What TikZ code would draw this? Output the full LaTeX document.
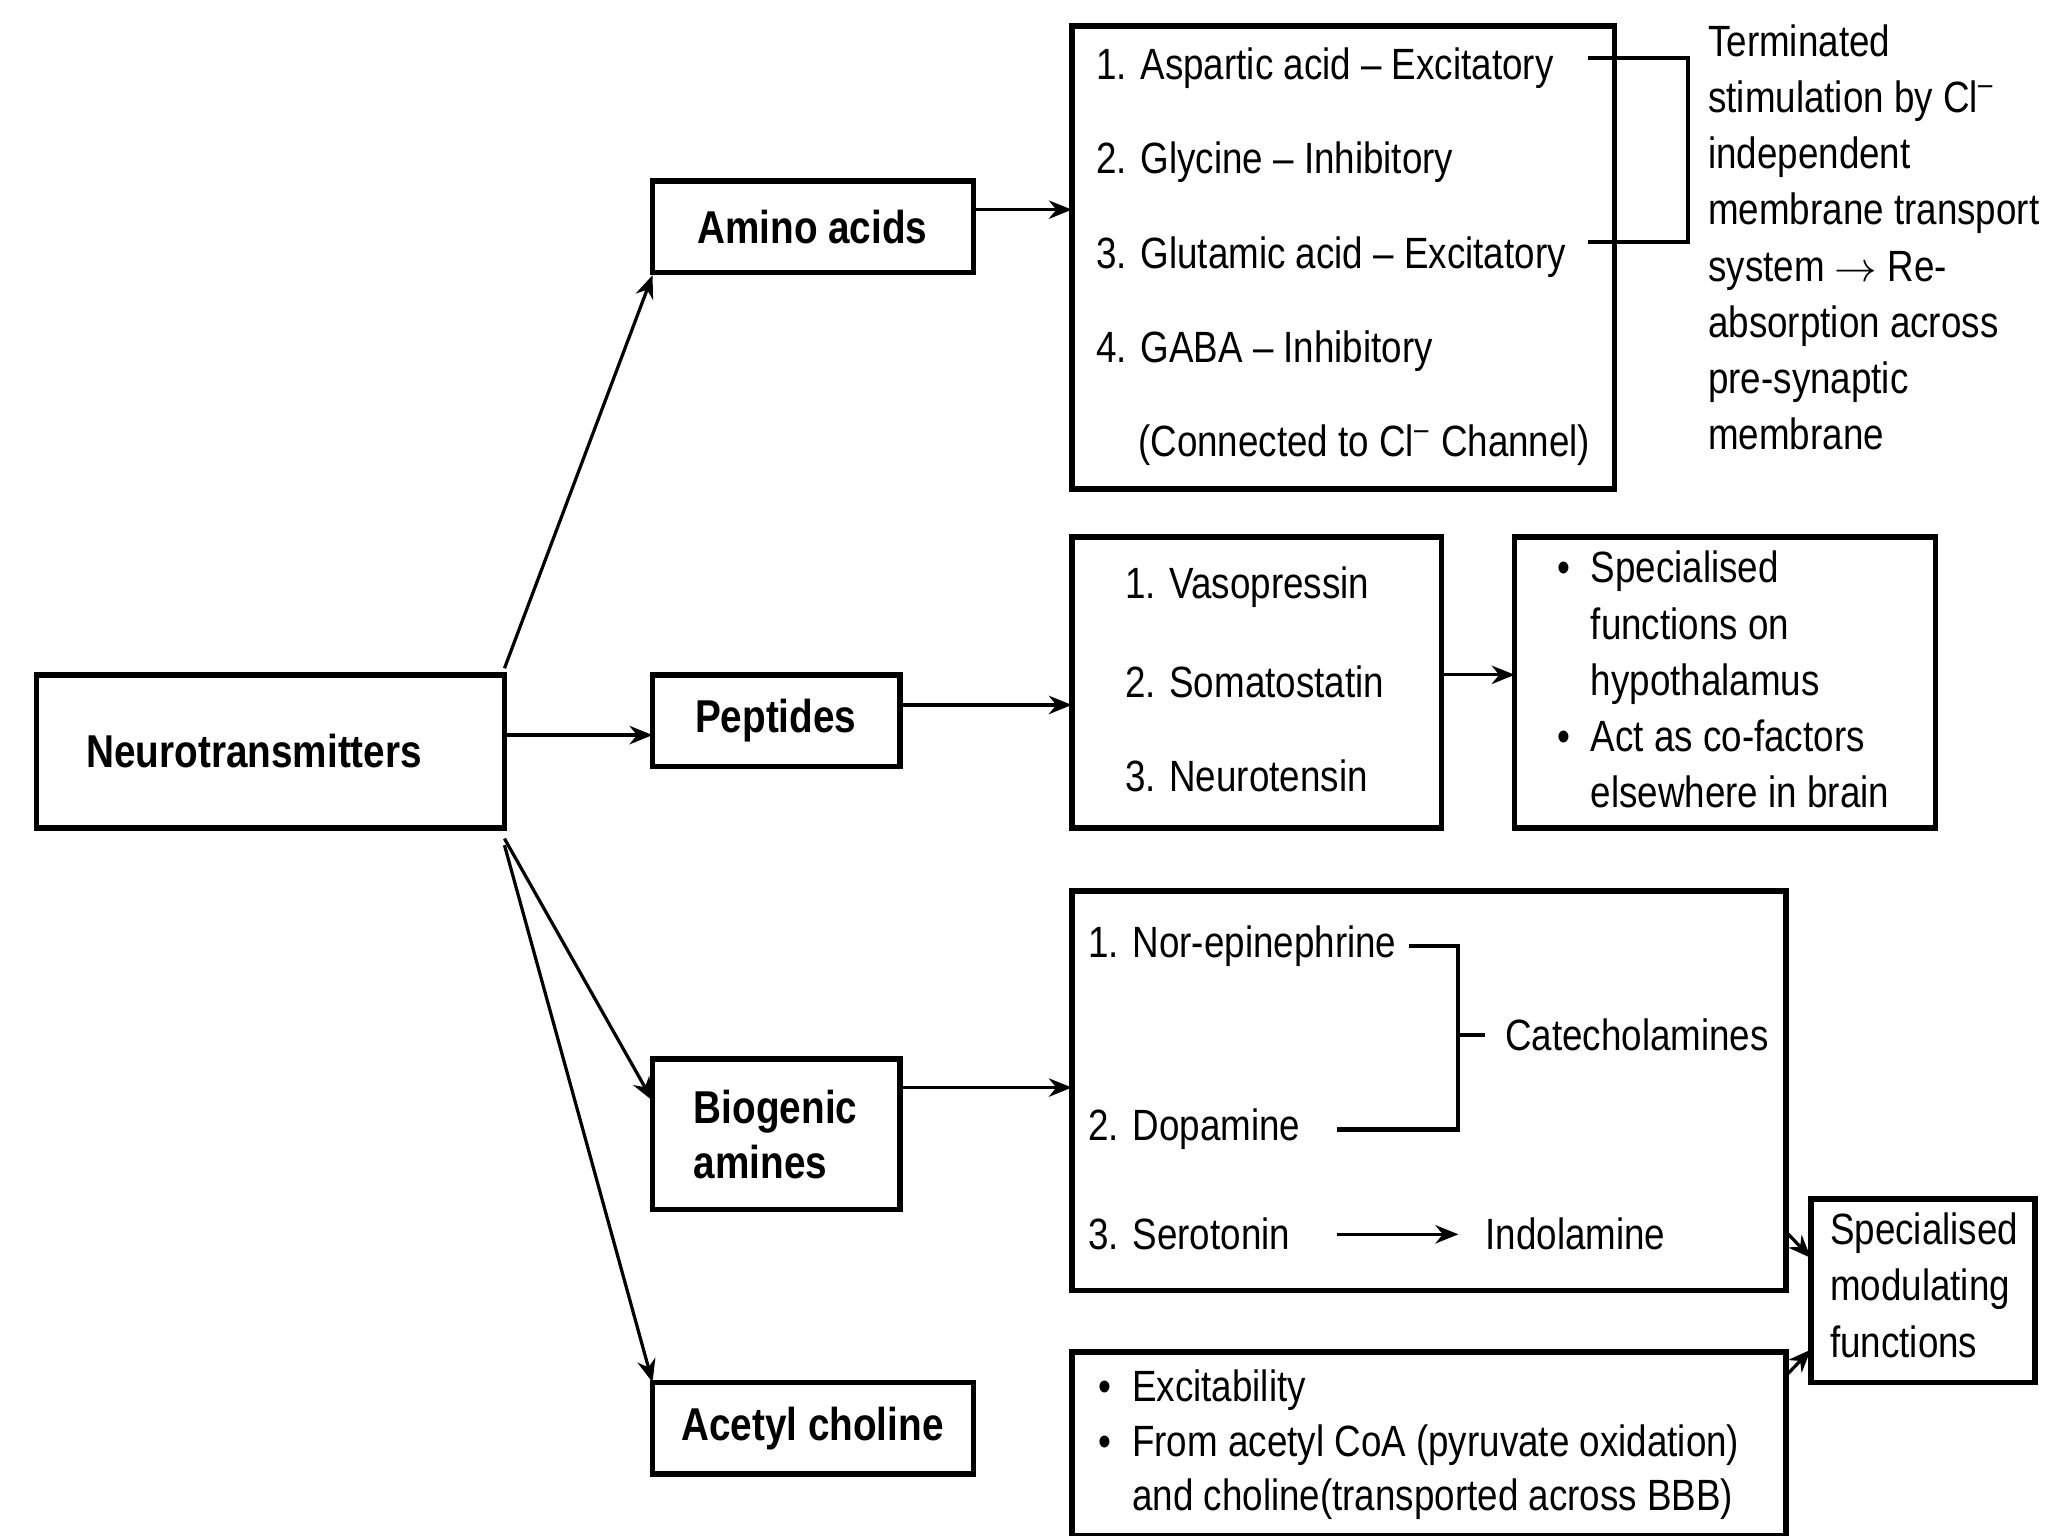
\documentclass[tikz,border=0pt]{standalone}
\usepackage{fontspec}
\setmainfont{Liberation Sans}[FakeStretch=0.84]
\usetikzlibrary{arrows.meta}
\begin{document}
\begin{tikzpicture}[x=0.01cm,y=-0.01cm,
 box/.style={draw,line width=1.2pt},
 lbl/.style={font=\fontsize{10}{12}\selectfont\bfseries},
 t/.style={anchor=west,inner sep=0,font=\fontsize{9.5}{11}\selectfont},
 arr/.style={-{Stealth[length=5pt,width=4pt]},line width=0.7pt},
 ln/.style={line width=0.9pt}]
\useasboundingbox (0,0) rectangle (1563,1172);
\draw[box] (28,515) rectangle (385,632);
\node[lbl] (nt) at (194,573) {Neurotransmitters};
\draw[box] (498,138) rectangle (743,208); \node[lbl] (aa) at (620,173) {Amino acids};
\draw[box] (498,515) rectangle (687,585); \node[lbl] (pp) at (592,550) {Peptides};
\draw[box] (498,808) rectangle (687,923); \node[lbl,align=left] (ba) at (592,866) {Biogenic\\amines};
\draw[box] (498,1055) rectangle (743,1125); \node[lbl] (ac) at (620,1090) {Acetyl choline};
\draw[box] (818,20) rectangle (1232,373);
\draw[box] (818,410) rectangle (1100,632);
\draw[box] (1156,410) rectangle (1477,632);
\draw[box] (818,680) rectangle (1363,985);
\draw[box] (818,1032) rectangle (1363,1172);
\draw[box] (1382,915) rectangle (1553,1055);
% arrows
\coordinate (n1) at (385,510); \coordinate (a1) at (498,210);
\coordinate (n2) at (385,561); \coordinate (p1) at (498,561);
\coordinate (n3) at (385,640); \coordinate (b1) at (498,840);
\coordinate (n4) at (385,645); \coordinate (c1) at (498,1055);
\draw[arr] (n1)--(a1); \draw[arr] (n2)--(p1); \draw[arr] (n3)--(b1); \draw[arr] (n4)--(c1);
\coordinate (x1) at (743,160); \coordinate (y1) at (818,160); \draw[arr] (x1)--(y1);
\coordinate (x2) at (687,538); \coordinate (y2) at (818,538); \draw[arr] (x2)--(y2);
\coordinate (x3) at (1100,515); \coordinate (y3) at (1156,515); \draw[arr] (x3)--(y3);
\coordinate (x4) at (687,830); \coordinate (y4) at (818,830); \draw[arr] (x4)--(y4);
\coordinate (x5) at (1363,940); \coordinate (y5) at (1382,960); \draw[arr] (x5)--(y5);
\coordinate (x6) at (1363,1050); \coordinate (y6) at (1382,1030); \draw[arr] (x6)--(y6);
% amino list
\node[t] at (836,52) {1. Aspartic acid -- Excitatory};
\node[t] at (836,124) {2. Glycine -- Inhibitory};
\node[t] at (836,196) {3. Glutamic acid -- Excitatory};
\node[t] at (836,268) {4. GABA -- Inhibitory};
\node[t] at (868,340) {(Connected to Cl\textsuperscript{--} Channel)};
\coordinate (k1) at (1212,44); \coordinate (k2) at (1288,44); \coordinate (k3) at (1288,185); \coordinate (k4) at (1212,185);
\draw[ln] (k1)--(k2)--(k3)--(k4);
\node[t,anchor=north west,align=left,font=\fontsize{9.5}{12.2}\selectfont] at (1303,18) {Terminated\\stimulation by Cl\textsuperscript{--}\\independent\\membrane transport\\system $\rightarrow$ Re-\\absorption across\\pre-synaptic\\membrane};
% peptides
\node[t] at (858,448) {1. Vasopressin};
\node[t] at (858,520) {2. Somatostatin};
\node[t] at (858,592) {3. Neurotensin};
\node[t,anchor=north west,align=left,font=\fontsize{9.5}{12.2}\selectfont] at (1188,420) {\textbullet\ \ Specialised\\\phantom{\textbullet\ \ }functions on\\\phantom{\textbullet\ \ }hypothalamus\\\textbullet\ \ Act as co-factors\\\phantom{\textbullet\ \ }elsewhere in brain};
% amines
\node[t] at (830,722) {1. Nor-epinephrine};
\node[t] at (830,862) {2. Dopamine};
\node[t] at (830,942) {3. Serotonin};
\coordinate (m1) at (1075,722); \coordinate (m2) at (1113,722); \coordinate (m3) at (1113,862); \coordinate (m4) at (1020,862);
\draw[ln] (m1)--(m2)--(m3)--(m4);
\coordinate (m5) at (1113,790); \coordinate (m6) at (1133,790); \draw[ln] (m5)--(m6);
\node[t] at (1148,790) {Catecholamines};
\coordinate (s1) at (1020,942); \coordinate (s2) at (1113,942); \draw[arr] (s1)--(s2);
\node[t] at (1133,942) {Indolamine};
% ACh
\node[t,anchor=north west,align=left,font=\fontsize{9.5}{11.8}\selectfont] at (838,1045) {\textbullet\ \ Excitability\\\textbullet\ \ From acetyl CoA (pyruvate oxidation)\\\phantom{\textbullet\ \ }and choline(transported across BBB)};
\node[t,anchor=north west,align=left,font=\fontsize{9.5}{12.2}\selectfont] at (1396,925) {Specialised\\modulating\\functions};
\end{tikzpicture}
\end{document}
